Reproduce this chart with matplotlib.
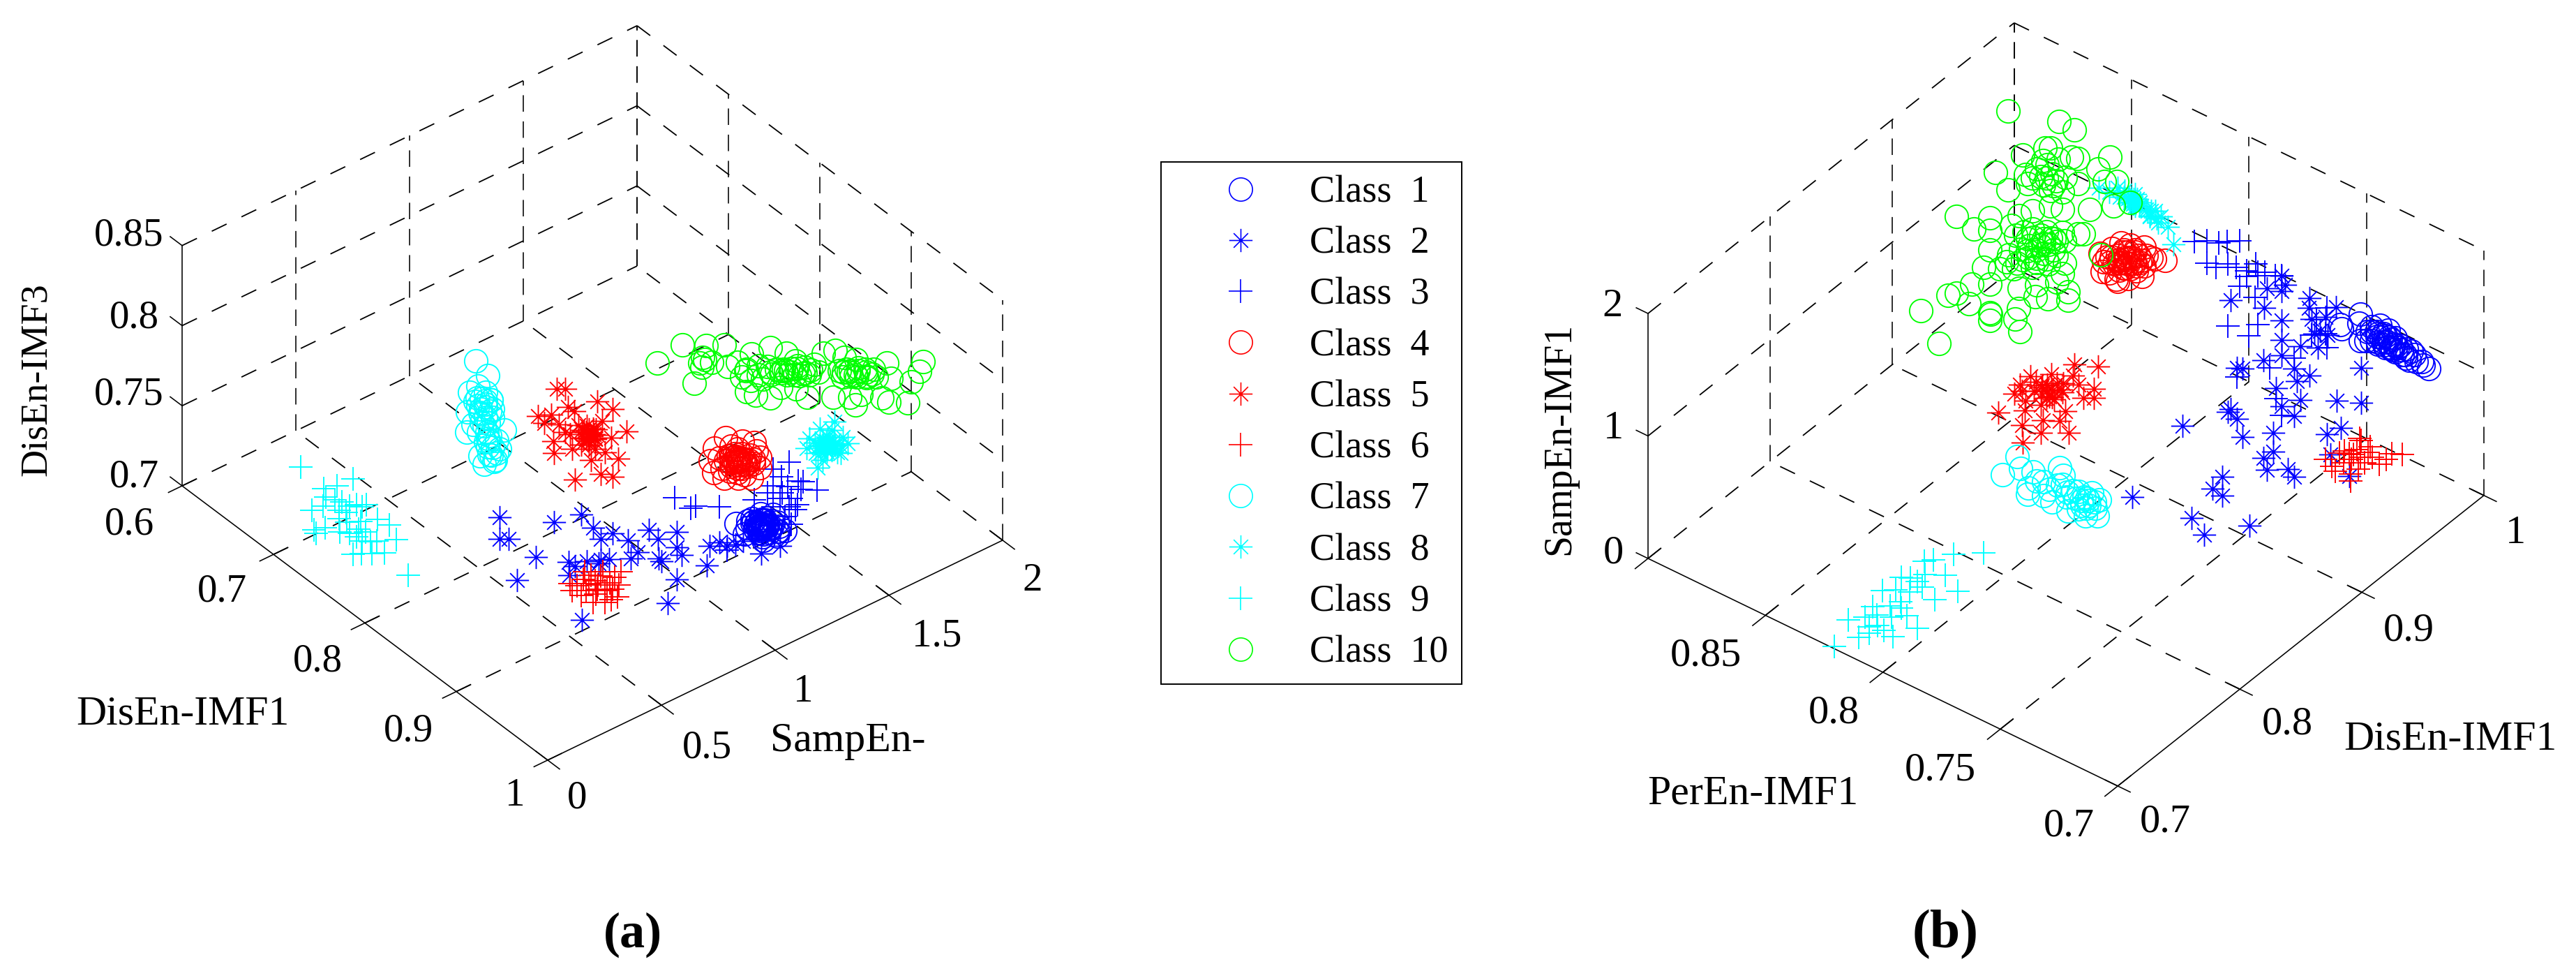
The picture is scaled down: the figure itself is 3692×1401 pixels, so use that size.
"""Entropy feature scatter plots for the ten fault classes, panels (a) and (b)."""

from __future__ import annotations

import matplotlib

matplotlib.use("Agg")

import matplotlib.pyplot as plt
import numpy as np
from matplotlib.lines import Line2D
from matplotlib.path import Path
from mpl_toolkits.mplot3d import proj3d

W, H = 3692, 1401

CLASS_NAMES = ["Class  1", "Class  2", "Class  3", "Class  4", "Class  5",
               "Class  6", "Class  7", "Class  8", "Class  9", "Class  10"]

# panel (a): (SampEn, DisEn-IMF1, DisEn-IMF3)
A1 = [(1.35, .900, .710), (1.30, .895, .711), (1.40, .905, .709), (1.33, .888, .710), (1.37, .912, .711),
      (1.28, .897, .709), (1.42, .893, .710), (1.36, .902, .711), (1.31, .910, .709), (1.39, .887, .710),
      (1.34, .892, .711), (1.38, .908, .709), (1.32, .899, .710), (1.35, .915, .711), (1.41, .900, .709),
      (1.29, .885, .710), (1.37, .895, .711), (1.33, .905, .709), (1.36, .898, .710), (1.34, .903, .711),
      (1.38, .891, .709), (1.35, .888, .710), (1.31, .905, .711), (1.40, .911, .709), (1.36, .896, .710),
      (1.33, .899, .711), (1.37, .902, .709), (1.34, .894, .710), (1.39, .899, .711), (1.32, .907, .709),
      (1.35, .897, .710), (1.36, .901, .711), (1.34, .899, .709), (1.35, .903, .710), (1.37, .899, .711),
      (1.33, .896, .709), (1.36, .905, .710), (1.34, .902, .711), (1.38, .902, .709), (1.35, .893, .710),
      (1.345, .898, .710), (1.355, .899, .711), (1.365, .897, .709), (1.345, .901, .710), (1.355, .902, .711),
      (1.335, .900, .709), (1.365, .900, .710), (1.375, .896, .711), (1.325, .902, .709), (1.350, .895, .710),
      (1.360, .894, .711), (1.340, .896, .709), (1.370, .893, .710), (1.330, .893, .711), (1.350, .906, .709)]
A2 = [(.679, .778, .710), (.597, .799, .711), (.632, .800, .709), (.635, .829, .710), (.497, .843, .711),
      (.814, .804, .709), (.908, .811, .710), (.888, .829, .711), (.880, .839, .709), (.923, .841, .710),
      (.936, .855, .711), (.929, .867, .709), (.882, .871, .710), (1.028, .855, .711), (1.032, .864, .709),
      (1.103, .867, .710), (1.041, .882, .711), (1.039, .888, .709), (.957, .883, .710), (.950, .888, .711),
      (.711, .846, .709), (.706, .854, .710), (.751, .856, .711), (.805, .858, .709), (.823, .862, .710),
      (.776, .863, .711), (.667, .858, .709), (.933, .909, .710), (.817, .928, .711), (.539, .903, .709),
      (1.062, .910, .710), (1.135, .895, .711), (1.185, .893, .709), (1.187, .901, .710), (1.208, .905, .711),
      (1.257, .921, .709), (1.326, .924, .710), (1.240, .905, .711)]
A3 = [(1.217, .836, .710), (1.237, .854, .711), (1.229, .851, .709), (1.306, .863, .710), (1.644, .855, .711),
      (1.588, .851, .709), (1.579, .863, .710), (1.516, .869, .711), (1.564, .873, .709), (1.606, .874, .710),
      (1.581, .884, .711), (1.533, .885, .709), (1.627, .890, .710), (1.491, .883, .711), (1.490, .870, .709),
      (1.492, .893, .710), (1.517, .879, .711), (1.528, .893, .709), (1.445, .900, .710), (1.492, .900, .711),
      (1.440, .908, .709), (1.421, .872, .710), (1.166, .906, .711), (1.454, .885, .709), (1.618, .877, .710)]
A4 = [(1.500, .809, .710), (1.563, .806, .711), (1.606, .813, .709), (1.628, .821, .710), (1.438, .820, .711),
      (1.418, .829, .709), (1.418, .840, .710), (1.451, .847, .711), (1.499, .850, .709), (1.551, .846, .710),
      (1.582, .838, .711), (1.517, .820, .709), (1.502, .830, .710), (1.549, .827, .711), (1.534, .835, .709),
      (1.481, .832, .710), (1.519, .841, .711), (1.576, .829, .709), (1.486, .825, .710), (1.554, .821, .711),
      (1.482, .839, .709), (1.449, .830, .710), (1.545, .841, .711), (1.493, .844, .709), (1.553, .814, .710),
      (1.597, .831, .711), (1.485, .818, .709), (1.523, .831, .710), (1.523, .827, .711), (1.508, .837, .709),
      (1.461, .836, .710), (1.530, .830, .711), (1.515, .828, .709), (1.540, .832, .710), (1.510, .833, .711),
      (1.535, .826, .709), (1.525, .836, .710), (1.505, .826, .711), (1.545, .829, .709), (1.495, .829, .710),
      (1.528, .824, .711), (1.518, .834, .709), (1.538, .836, .710), (1.498, .835, .711), (1.555, .833, .709),
      (1.520, .830, .710), (1.512, .824, .711), (1.532, .828, .709), (1.490, .837, .710), (1.560, .837, .711)]
A5 = [(1.290, .689, .710), (1.307, .694, .711), (1.149, .703, .709), (1.184, .709, .710), (1.129, .715, .711),
      (1.263, .708, .709), (1.259, .716, .710), (1.348, .719, .711), (1.373, .729, .709), (1.297, .737, .710),
      (1.318, .758, .711), (1.268, .754, .709), (1.219, .742, .710), (1.213, .732, .711), (1.174, .720, .709),
      (1.094, .734, .710), (1.047, .746, .711), (1.125, .747, .709), (1.178, .752, .710), (1.173, .760, .711),
      (1.199, .764, .709), (1.206, .777, .710), (1.121, .768, .711), (1.021, .776, .709), (1.105, .783, .710),
      (1.120, .792, .711), (1.192, .742, .709), (1.214, .750, .710), (1.160, .736, .711), (1.244, .733, .709),
      (1.156, .749, .710), (1.154, .732, .711), (1.219, .744, .709), (1.213, .738, .710), (1.239, .741, .711),
      (1.198, .744, .709), (1.235, .747, .710), (1.225, .740, .711), (1.205, .746, .709), (1.228, .745, .710),
      (1.210, .741, .711), (1.222, .748, .709), (1.190, .748, .710), (1.245, .743, .711), (1.216, .735, .709)]
A6 = [(.644, .872, .710), (.676, .871, .711), (.656, .879, .709), (.718, .869, .710), (.657, .889, .711),
      (.708, .879, .709), (.761, .871, .710), (.694, .890, .711), (.746, .882, .709), (.772, .881, .710),
      (.752, .891, .711), (.690, .898, .709), (.625, .894, .710), (.614, .884, .711), (.619, .873, .709),
      (.683, .884, .710), (.735, .875, .711), (.715, .887, .709), (.682, .875, .710), (.804, .880, .711),
      (.716, .898, .709), (.657, .899, .710), (.708, .864, .711), (.714, .874, .709), (.726, .890, .710),
      (.626, .869, .711)]
A7 = [(1.175, .629, .710), (1.148, .649, .711), (1.051, .653, .709), (.970, .671, .710), (1.085, .654, .711),
      (1.092, .660, .709), (1.026, .665, .710), (1.054, .670, .711), (1.082, .669, .709), (1.014, .674, .710),
      (1.026, .681, .711), (.946, .683, .709), (.971, .686, .710), (1.011, .688, .711), (.903, .687, .709),
      (1.002, .703, .710), (.923, .695, .711), (.951, .700, .709), (.945, .709, .710), (.905, .707, .711),
      (.853, .714, .709), (.911, .713, .710), (.917, .719, .711), (.834, .723, .709), (.865, .726, .710),
      (1.029, .676, .711), (1.051, .678, .709), (1.000, .677, .710), (1.040, .664, .711), (1.060, .664, .709),
      (1.020, .670, .710), (1.070, .672, .711), (1.005, .682, .709), (.985, .690, .710), (.960, .692, .711),
      (.935, .702, .709), (.925, .706, .710), (.895, .712, .711), (.885, .718, .709), (.900, .720, .710),
      (.870, .719, .711), (.880, .724, .709), (1.045, .672, .710), (.990, .680, .711), (.955, .696, .709)]
A8 = [(1.915, .837, .710), (1.847, .838, .711), (1.884, .842, .709), (1.885, .854, .710), (1.870, .863, .711),
      (1.752, .847, .709), (1.789, .841, .710), (1.748, .858, .711), (1.712, .869, .709), (1.748, .866, .710),
      (1.807, .867, .711), (1.828, .866, .709), (1.811, .855, .710), (1.826, .853, .711), (1.796, .857, .709),
      (1.807, .861, .710), (1.815, .849, .711), (1.853, .852, .709), (1.769, .858, .710), (1.827, .860, .711),
      (1.795, .850, .709), (1.790, .860, .710), (1.837, .849, .711), (1.853, .858, .709), (1.789, .847, .710),
      (1.820, .856, .711), (1.805, .853, .709), (1.815, .859, .710), (1.800, .855, .711), (1.830, .856, .709),
      (1.810, .851, .710), (1.785, .854, .711), (1.840, .855, .709), (1.822, .851, .710), (1.798, .859, .711)]
A9 = [(.328, .648, .710), (.418, .683, .711), (.316, .676, .709), (.357, .681, .710), (.282, .687, .711),
      (.307, .691, .709), (.314, .697, .710), (.243, .694, .711), (.209, .690, .709), (.277, .703, .710),
      (.313, .705, .711), (.349, .704, .709), (.348, .710, .710), (.363, .711, .711), (.145, .708, .709),
      (.176, .713, .710), (.239, .712, .711), (.259, .716, .709), (.294, .722, .710), (.342, .729, .711),
      (.364, .736, .709), (.132, .714, .710), (.194, .724, .711), (.226, .727, .709), (.228, .734, .710),
      (.264, .735, .711), (.255, .743, .709), (.323, .754, .710), (.150, .750, .711), (.186, .750, .709),
      (.209, .756, .710), (.238, .762, .711), (.235, .789, .709), (.228, .740, .710), (.261, .748, .711),
      (.265, .727, .709), (.288, .708, .710)]
A10 = [(1.367, .780, .760), (1.493, .776, .761), (1.565, .784, .759), (1.393, .814, .760), (1.605, .794, .761),
       (1.512, .793, .759), (1.481, .798, .760), (1.464, .804, .761), (1.521, .801, .759), (1.506, .797, .760),
       (1.535, .815, .761), (1.589, .812, .759), (1.502, .844, .760), (1.510, .852, .761), (1.550, .858, .759),
       (1.651, .812, .760), (1.717, .816, .761), (1.753, .825, .759), (1.581, .824, .760), (1.620, .827, .761),
       (1.653, .829, .759), (1.662, .837, .760), (1.547, .837, .761), (1.616, .853, .759), (1.645, .862, .760),
       (1.639, .876, .761), (1.720, .884, .759), (1.748, .902, .760), (1.754, .894, .761), (1.846, .906, .759),
       (1.847, .914, .760), (1.887, .924, .761), (1.985, .904, .759), (1.995, .914, .775), (1.951, .921, .775),
       (1.887, .845, .760), (1.840, .844, .761), (1.891, .854, .759), (1.910, .862, .760), (1.973, .880, .761),
       (1.942, .892, .759), (1.690, .845, .760), (1.737, .839, .761), (1.707, .851, .759), (1.744, .847, .760),
       (1.724, .857, .761), (1.786, .847, .759), (1.765, .857, .760), (1.821, .866, .761), (1.856, .865, .759),
       (1.836, .875, .760), (1.870, .874, .761), (1.906, .873, .759), (1.900, .882, .760), (1.896, .888, .761),
       (1.688, .838, .759), (1.591, .839, .760), (1.535, .830, .761), (1.803, .894, .759), (1.705, .842, .760),
       (1.726, .844, .761), (1.860, .874, .759), (1.632, .839, .760), (1.665, .841, .761), (1.680, .842, .760),
       (1.698, .848, .759), (1.715, .846, .761), (1.672, .846, .760), (1.732, .851, .759), (1.712, .853, .761),
       (1.752, .852, .760), (1.640, .835, .759), (1.655, .843, .761), (1.845, .870, .760), (1.862, .868, .759),
       (1.878, .872, .761), (1.850, .878, .760), (1.885, .880, .759), (1.868, .884, .761), (1.832, .868, .760),
       (1.898, .876, .759), (1.915, .880, .761), (1.812, .872, .760), (1.600, .832, .759), (1.570, .826, .761)]

# panel (b): (DisEn-IMF1, PerEn-IMF1, SampEn-IMF1)
B1 = [(.9602, .7320, 1.50), (.9440, .7315, 1.51), (.9480, .7341, 1.49), (.9539, .7292, 1.50), (.9423, .7227, 1.51),
      (.9456, .7219, 1.49), (.9589, .7229, 1.50), (.9519, .7227, 1.51), (.9556, .7196, 1.49), (.9544, .7166, 1.50),
      (.9547, .7143, 1.51), (.9531, .7114, 1.49), (.9523, .7081, 1.50), (.9500, .7038, 1.51), (.9496, .7002, 1.49),
      (.9469, .6983, 1.50), (.9458, .6952, 1.51), (.9474, .7204, 1.49), (.9496, .7165, 1.50), (.9464, .7110, 1.51),
      (.9478, .7077, 1.49), (.9522, .7060, 1.50), (.9458, .7136, 1.51), (.9549, .7223, 1.49), (.9518, .7187, 1.50),
      (.9494, .7105, 1.51), (.9491, .7128, 1.49), (.9460, .7053, 1.50), (.9577, .7188, 1.51), (.9563, .7250, 1.49),
      (.9456, .7036, 1.50), (.9457, .7096, 1.51), (.9520, .7247, 1.49), (.9506, .7156, 1.50), (.9455, .7169, 1.51),
      (.9478, .7017, 1.49), (.9510, .7200, 1.50), (.9530, .7175, 1.51), (.9485, .7185, 1.49), (.9512, .7130, 1.50),
      (.9470, .7150, 1.51), (.9538, .7210, 1.49), (.9500, .7090, 1.50), (.9525, .7150, 1.51), (.9490, .7070, 1.49),
      (.9472, .7125, 1.50), (.9503, .7115, 1.51), (.9515, .7165, 1.49)]
B2 = [(.9964, .7610, 1.00), (.9928, .7706, 1.01), (.9880, .7682, .99), (.9867, .7605, 1.00), (.9804, .7633, 1.01),
      (.9770, .7579, .99), (.9727, .7580, 1.00), (.9750, .7536, 1.01), (.9610, .7579, .99), (.9646, .7522, 1.00),
      (.9700, .7707, 1.01), (.9590, .7649, .99), (.9484, .7594, 1.00), (.9388, .7620, 1.01), (.9444, .7520, .99),
      (.9440, .7453, 1.00), (.9360, .7465, 1.01), (.9266, .7504, .99), (.9652, .7343, 1.00), (.9248, .7391, 1.01),
      (.9168, .7429, .99), (.9135, .7358, 1.00), (.9357, .7294, 1.01), (.9433, .7229, .99), (.9203, .7195, 1.00),
      (.9112, .7207, 1.01), (.9011, .7139, .99), (.8962, .7358, 1.00), (.8832, .7291, 1.01), (.8781, .7304, .99),
      (.8704, .7250, 1.00), (.8769, .7195, 1.01), (.8751, .7159, .99), (.8922, .7013, 1.00), (.8513, .7342, 1.01),
      (.8423, .7336, .99), (.8401, .7284, 1.00), (.8716, .7616, 1.01), (.8850, .7429, .99), (.8938, .7501, 1.00),
      (.8947, .7544, 1.01), (.8989, .7554, .99), (.9266, .7671, 1.00), (.9271, .7648, 1.01), (.9686, .7915, .99),
      (.9735, .7799, 1.00), (.9860, .7851, 1.01), (.9906, .7813, .99), (.9947, .7819, 1.00), (.9988, .7856, 1.01),
      (.8120, .7520, .99), (.8160, .7290, 1.00), (.8086, .7196, 1.01), (.8300, .7116, .99)]
B3 = [(.9784, .8121, 1.20), (.9823, .8087, 1.21), (.9859, .8057, 1.19), (.9887, .8033, 1.20), (.9925, .8001, 1.21),
      (.9696, .8021, 1.19), (.9688, .7978, 1.20), (.9739, .7955, 1.21), (.9757, .7929, 1.19), (.9760, .7886, 1.20),
      (.9826, .7881, 1.21), (.9796, .7855, 1.19), (.9722, .7867, 1.20), (.9758, .7836, 1.21), (.9818, .7837, 1.19),
      (.9821, .7794, 1.20), (.9831, .7775, 1.21), (.9358, .7757, 1.19), (.9349, .7663, 1.20), (.9634, .7850, 1.21),
      (.9622, .7779, 1.19), (.9452, .7677, 1.20), (.9763, .7546, 1.21), (.9610, .7472, 1.19), (.9517, .7418, 1.20),
      (.9545, .7497, 1.21), (.9356, .7473, 1.19), (.9213, .7502, 1.20), (.9043, .7555, 1.21), (.8951, .7317, 1.19),
      (.9031, .7382, 1.20), (.9656, .7535, 1.21)]
B4 = [(.9025, .8128, 1.70), (.8976, .8087, 1.71), (.8921, .8064, 1.69), (.9092, .8113, 1.70), (.9150, .8103, 1.71),
      (.9178, .8079, 1.69), (.9200, .8031, 1.70), (.8919, .8033, 1.71), (.8919, .8004, 1.69), (.8901, .7989, 1.70),
      (.8940, .7965, 1.71), (.9014, .7944, 1.69), (.9155, .7977, 1.70), (.9150, .7960, 1.71), (.9190, .7936, 1.69),
      (.9038, .8055, 1.70), (.9060, .8037, 1.71), (.9104, .8031, 1.69), (.9088, .7992, 1.70), (.8994, .8052, 1.71),
      (.9029, .8002, 1.69), (.9105, .8070, 1.70), (.9149, .8043, 1.71), (.9088, .7972, 1.69), (.9039, .8086, 1.70),
      (.9000, .8006, 1.71), (.9033, .7978, 1.69), (.9155, .7998, 1.70), (.9017, .8094, 1.71), (.9050, .8060, 1.69),
      (.9075, .8045, 1.70), (.9020, .8040, 1.71), (.9090, .8015, 1.69), (.9045, .8020, 1.70), (.9115, .8055, 1.71),
      (.9005, .8075, 1.69), (.9070, .8005, 1.70), (.9125, .8015, 1.71), (.8985, .8025, 1.69), (.9065, .8075, 1.70),
      (.9135, .8035, 1.71), (.9010, .8020, 1.69), (.9058, .7990, 1.70), (.9100, .7990, 1.71), (.9030, .8050, 1.69),
      (.9120, .8075, 1.70), (.9080, .8030, 1.71), (.9050, .8035, 1.69)]
B5 = [(.8704, .8071, 1.10), (.8760, .7997, 1.11), (.8500, .8150, 1.09), (.8570, .8100, 1.10), (.8620, .8032, 1.11),
      (.8415, .8152, 1.09), (.8490, .8076, 1.10), (.8580, .7987, 1.11), (.8616, .7940, 1.09), (.8330, .8130, 1.10),
      (.8400, .8085, 1.11), (.8426, .8033, 1.09), (.8490, .8010, 1.10), (.8510, .7930, 1.11), (.8556, .7910, 1.09),
      (.8160, .8110, 1.10), (.8250, .8044, 1.11), (.8160, .8010, 1.09), (.8246, .7967, 1.10), (.8290, .7917, 1.11),
      (.8385, .7944, 1.09), (.8160, .7930, 1.10), (.8240, .7854, 1.11), (.8050, .7950, 1.09), (.8320, .8080, 1.10),
      (.8410, .8003, 1.11), (.8350, .8030, 1.09), (.8530, .8054, 1.10), (.8465, .8110, 1.11), (.8380, .8124, 1.09),
      (.8450, .8056, 1.10), (.8540, .8034, 1.11), (.8434, .8026, 1.09), (.8470, .8040, 1.10), (.8445, .8075, 1.11),
      (.8510, .8025, 1.09), (.8415, .8060, 1.10), (.8395, .8030, 1.11), (.8480, .8090, 1.09)]
B6 = [(.9590, .7180, .50), (.9607, .7143, .51), (.9515, .7290, .49), (.9456, .7290, .50), (.9570, .7300, .51),
      (.9530, .7250, .49), (.9430, .7320, .50), (.9340, .7330, .51), (.9330, .7300, .49), (.9380, .7274, .50),
      (.9420, .7262, .51), (.9395, .7221, .49), (.9447, .7220, .50), (.9500, .7215, .51), (.9490, .7180, .49),
      (.9535, .7174, .50), (.9280, .7193, .51), (.9340, .7224, .49), (.9457, .7313, .50), (.9456, .7272, .51),
      (.9477, .7254, .49), (.9566, .7260, .50), (.9580, .7310, .51), (.9310, .7275, .49)]
B7 = [(.8330, .8120, .60), (.8160, .8095, .61), (.8270, .8075, .59), (.8280, .8024, .60), (.8380, .7965, .61),
      (.8170, .7990, .59), (.8250, .7965, .60), (.8340, .7930, .61), (.8293, .7862, .59), (.8160, .7918, .60),
      (.8264, .7914, .61), (.8286, .7813, .59), (.8280, .7764, .60), (.8190, .7705, .61), (.8190, .7786, .59),
      (.8136, .7803, .60), (.8230, .7763, .61), (.8315, .7760, .59), (.8147, .7876, .60), (.8110, .7960, .61),
      (.8240, .7990, .59), (.8256, .7866, .60), (.8240, .7800, .61), (.8300, .7910, .59), (.8240, .7824, .60),
      (.8320, .7797, .61), (.8170, .7744, .59), (.8219, .7925, .60), (.8260, .7780, .61), (.8225, .7790, .59),
      (.8275, .7795, .60), (.8205, .7760, .61), (.8250, .7745, .59), (.8295, .7840, .60), (.8215, .7850, .61)]
B8 = [(.9365, .8309, 1.80), (.9360, .8263, 1.81), (.9430, .8264, 1.79), (.9422, .8231, 1.80), (.9384, .8191, 1.81),
      (.9388, .8178, 1.79), (.9366, .8176, 1.80), (.9425, .8187, 1.81), (.9379, .8144, 1.79), (.9371, .8110, 1.80),
      (.9371, .8090, 1.81), (.9400, .8086, 1.79), (.9370, .8049, 1.80), (.9318, .8032, 1.81), (.9332, .8000, 1.79),
      (.9230, .7923, 1.80), (.9358, .8162, 1.81), (.9395, .8201, 1.79), (.9391, .8165, 1.80), (.9377, .8208, 1.81),
      (.9378, .8227, 1.79), (.9337, .8077, 1.80), (.9337, .8048, 1.81), (.9377, .8177, 1.79), (.9399, .8179, 1.80),
      (.9402, .8166, 1.81), (.9385, .8170, 1.79), (.9372, .8165, 1.80), (.9392, .8185, 1.81), (.9365, .8155, 1.79),
      (.9380, .8160, 1.80), (.9360, .8100, 1.81), (.9350, .8085, 1.79), (.9395, .8150, 1.80)]
B9 = [(.800, .809, .10), (.789, .816, .11), (.777, .8225, .09), (.780, .820, .10), (.773, .8115, .11),
      (.768, .8035, .09), (.761, .820, .10), (.760, .8166, .11), (.7595, .823, .09), (.749, .820, .10),
      (.7436, .8227, .11), (.753, .816, .09), (.759, .814, .10), (.754, .806, .11), (.7435, .815, .09),
      (.737, .816, .10), (.730, .820, .11), (.728, .817, .09), (.722, .819, .10), (.714, .822, .11),
      (.7175, .815, .09), (.730, .812, .10), (.735, .808, .11), (.732, .802, .09), (.707, .814, .10),
      (.712, .812, .11), (.720, .810, .09), (.718, .805, .10), (.693, .817, .11), (.7215, .8134, .09),
      (.739, .8125, .10), (.767, .817, .11)]
B10 = [(.9729, .8885, 1.60), (.9814, .8712, 1.61), (.9823, .8653, 1.59), (.9752, .8462, 1.60), (.9602, .8662, 1.61),
       (.9500, .8704, 1.59), (.9628, .8650, 1.60), (.9626, .8560, 1.61), (.9651, .8548, 1.59), (.9641, .8455, 1.60),
       (.9289, .8710, 1.61), (.9235, .8627, 1.59), (.9376, .8628, 1.60), (.9442, .8614, 1.61), (.9426, .8565, 1.59),
       (.9324, .8591, 1.60), (.9359, .8540, 1.61), (.9388, .8476, 1.59), (.9479, .8459, 1.60), (.9570, .8392, 1.61),
       (.9625, .8367, 1.59), (.8895, .8671, 1.60), (.8859, .8578, 1.61), (.8998, .8583, 1.59), (.8908, .8536, 1.60),
       (.8774, .8466, 1.61), (.9104, .8512, 1.59), (.9005, .8495, 1.60), (.9159, .8486, 1.61), (.9262, .8460, 1.59),
       (.9268, .8414, 1.60), (.9344, .8339, 1.61), (.9457, .8294, 1.59), (.9523, .8259, 1.60), (.9168, .8274, 1.61),
       (.9166, .8296, 1.59), (.8959, .8451, 1.60), (.9040, .8424, 1.61), (.9083, .8387, 1.59), (.9119, .8336, 1.60),
       (.9066, .8299, 1.61), (.8819, .8408, 1.59), (.8885, .8393, 1.60), (.8920, .8342, 1.61), (.8986, .8307, 1.59),
       (.8932, .8229, 1.60), (.8642, .8425, 1.61), (.8516, .8409, 1.59), (.8562, .8356, 1.60), (.8685, .8378, 1.61),
       (.8743, .8349, 1.59), (.8801, .8300, 1.60), (.8867, .8265, 1.61), (.8865, .8204, 1.59), (.8402, .8414, 1.60),
       (.8353, .8426, 1.61), (.8383, .8352, 1.59), (.8380, .8260, 1.60), (.8366, .8250, 1.61), (.8341, .8241, 1.59),
       (.8497, .8201, 1.60), (.8412, .8171, 1.61), (.8360, .8122, 1.59), (.8179, .8450, 1.60), (.8015, .8290, 1.61),
       (.8631, .8200, 1.59), (.8647, .8155, 1.60), (.8749, .8119, 1.61), (.8712, .8100, 1.59), (.8627, .8264, 1.60),
       (.8696, .8226, 1.61), (.8795, .8192, 1.59), (.8759, .8387, 1.60), (.8966, .8405, 1.61), (.9001, .8354, 1.59),
       (.9521, .8629, 1.60), (.9568, .8589, 1.61), (.9383, .8602, 1.59), (.9352, .8507, 1.60), (.8817, .8348, 1.61),
       (.9104, .8165, 1.59), (.9035, .8386, 1.60), (.9000, .8438, 1.61), (.9064, .8343, 1.59), (.8875, .8319, 1.60),
       (.8990, .8395, 1.61), (.8940, .8385, 1.59), (.9020, .8365, 1.60), (.8960, .8350, 1.61), (.8905, .8375, 1.59),
       (.9050, .8350, 1.60), (.8995, .8330, 1.61), (.8935, .8320, 1.59), (.8855, .8345, 1.60), (.9035, .8320, 1.61),
       (.8790, .8360, 1.59), (.8900, .8290, 1.60), (.8840, .8300, 1.61), (.8960, .8280, 1.59), (.9465, .8560, 1.60),
       (.9500, .8600, 1.61), (.9440, .8530, 1.59), (.9410, .8580, 1.60), (.9475, .8510, 1.61), (.9400, .8520, 1.59)]

PANEL_A = [A1, A2, A3, A4, A5, A6, A7, A8, A9, A10]
PANEL_B = [B1, B2, B3, B4, B5, B6, B7, B8, B9, B10]

COLORS = ["#0000ff", "#0000ff", "#0000ff", "#ff0000", "#ff0000", "#ff0000",
          "#00ffff", "#00ffff", "#00ffff", "#00ff00"]

STAR = Path(
    [(-1, 0), (1, 0), (0, -1), (0, 1), (-0.62, -0.62), (0.62, 0.62), (-0.62, 0.62), (0.62, -0.62)],
    [Path.MOVETO, Path.LINETO] * 4,
)
MARKERS = ["o", STAR, "+", "o", STAR, "+", "o", STAR, "+", "o"]

plt.rcParams["font.family"] = ["Liberation Serif", "DejaVu Serif"]
plt.rcParams["lines.scale_dashes"] = False


def px_text(fig, x, y, s, size, **kw):
    """Place text by pixel position measured from the top left of the picture."""
    kw.setdefault("ha", "center")
    kw.setdefault("va", "center")
    fig.text(x / W, 1 - y / H, s, fontsize=size, **kw)


def project(ax, point):
    xs, ys, _ = proj3d.proj_transform(*point, ax.get_proj())
    ax.apply_aspect()
    return ax.transData.transform((xs, ys))


def fit_axes(ax, corner1, target1, corner2, target2):
    """Move and scale the square 3D axes so two box corners land on given pixels."""
    t1 = np.array([target1[0], H - target1[1]], dtype=float)
    t2 = np.array([target2[0], H - target2[1]], dtype=float)
    size, left, bottom = 1200.0, 0.0, 0.0
    for _ in range(4):
        ax.set_position([left / W, bottom / H, size / W, size / H])
        p1, p2 = project(ax, corner1), project(ax, corner2)
        size *= np.linalg.norm(t2 - t1) / np.linalg.norm(p2 - p1)
        ax.set_position([left / W, bottom / H, size / W, size / H])
        p1 = project(ax, corner1)
        left += t1[0] - p1[0]
        bottom += t1[1] - p1[1]
    ax.set_position([left / W, bottom / H, size / W, size / H])


def draw_box(ax, xt, yt, zt, x_tick, y_tick, z_tick):
    """Dashed floor and back walls, solid axes with their ticks."""
    x0, x1 = xt[0], xt[-1]
    y0, y1 = yt[0], yt[-1]
    z0, z1 = zt[0], zt[-1]
    slanted = {"color": "k", "lw": 1.3, "dashes": (17, 17), "zorder": 1, "clip_on": False}
    upright = {"color": "k", "lw": 1.15, "dashes": (17, 10), "zorder": 1, "clip_on": False}
    solid = {"color": "k", "lw": 1.15, "zorder": 1, "clip_on": False}

    for x in xt[1:]:
        ax.plot([x, x], [y0, y1], [z0, z0], **slanted)
        ax.plot([x, x], [y1, y1], [z0, z1], **upright)
    for y in yt[1:]:
        ax.plot([x0, x1], [y, y], [z0, z0], **slanted)
    for y in yt:
        ax.plot([x1, x1], [y, y], [z0, z1], **upright)
    for z in zt[1:]:
        ax.plot([x0, x1], [y1, y1], [z, z], **slanted)
        ax.plot([x1, x1], [y1, y0], [z, z], **slanted)

    ax.plot([x0, x1], [y0, y0], [z0, z0], **solid)
    ax.plot([x0, x0], [y0, y1], [z0, z0], **solid)
    ax.plot([x0, x0], [y1, y1], [z0, z1], **solid)
    for x in xt:
        ax.plot([x, x], [y0 - y_tick, y0 + y_tick], [z0, z0], **solid)
    for y in yt:
        ax.plot([x0 - x_tick, x0 + x_tick], [y, y], [z0, z0], **solid)
    for z in zt:
        ax.plot([x0, x0], [y1, y1 + z_tick], [z, z], **solid)


def draw_classes(ax, panel):
    for i, points in enumerate(panel):
        xs, ys, zs = np.array(points).T
        ax.plot(xs, ys, zs, linestyle="none", marker=MARKERS[i], ms=24, mew=1.35,
                mfc="none", mec=COLORS[i], zorder=2 + i, clip_on=False)


def make_axes(fig, elev, azim, aspect, xlim, ylim, zlim):
    ax = fig.add_axes([0, 0, 0.3, 0.3], projection="3d")
    ax.set_proj_type("ortho")
    ax.view_init(elev=elev, azim=azim)
    ax.set_box_aspect(aspect)
    ax.set_xlim(*xlim)
    ax.set_ylim(*ylim)
    ax.set_zlim(*zlim)
    ax.set_axis_off()
    ax.patch.set_visible(False)
    ax.computed_zorder = False
    return ax


def main() -> None:
    fig = plt.figure(figsize=(W / 100, H / 100), dpi=100, facecolor="white")

    # (a)
    ax = make_axes(fig, 37.0, -128.75, (836, 837, 431), (0, 2), (1, 0.6), (0.7, 0.85))
    draw_box(ax, [0, 0.5, 1, 1.5, 2], [1, 0.9, 0.8, 0.7, 0.6], [0.7, 0.75, 0.8, 0.85],
             0.06, 0.013, -0.013)
    draw_classes(ax, PANEL_A)
    fit_axes(ax, (0, 0.6, 0.7), (261, 696), (2, 1, 0.7), (1437, 774))

    for s, x, y in [("0.85", 185, 338), ("0.8", 192, 455), ("0.75", 185, 566), ("0.7", 192, 684)]:
        px_text(fig, x, y, s, 41)
    for s, x, y in [("0.6", 186, 751), ("0.7", 318, 847), ("0.8", 455, 947), ("0.9", 585, 1047), ("1", 738, 1140)]:
        px_text(fig, x, y, s, 41)
    for s, x, y in [("0", 827, 1144), ("0.5", 1013, 1071), ("1", 1151, 991), ("1.5", 1343, 911), ("2", 1480, 832)]:
        px_text(fig, x, y, s, 41)
    px_text(fig, 53, 544, "DisEn-IMF3", 39, rotation=90)
    px_text(fig, 262, 1024, "DisEn-IMF1", 43)
    px_text(fig, 1215, 1062, "SampEn-", 43)
    px_text(fig, 907, 1339, "(a)", 52, fontweight="bold")

    # (b)
    ax = make_axes(fig, 38.3, -142.0, (852, 854, 447), (0.7, 1), (0.7, 0.9), (0, 2))
    draw_box(ax, [0.7, 0.8, 0.9, 1], [0.7, 0.75, 0.8, 0.85, 0.9], [0, 1, 2],
             0.0105, 0.0053, 0.005)
    draw_classes(ax, PANEL_B)
    fit_axes(ax, (0.7, 0.9, 0), (2362, 800), (1, 0.7, 0), (3560, 710))

    for s, x, y in [("2", 2311, 439), ("1", 2312, 614), ("0", 2312, 792)]:
        px_text(fig, x, y, s, 42)
    for s, x, y in [("0.85", 2445, 939), ("0.8", 2628, 1022), ("0.75", 2781, 1104), ("0.7", 2965, 1184)]:
        px_text(fig, x, y, s, 42)
    for s, x, y in [("0.7", 3103, 1177), ("0.8", 3278, 1038), ("0.9", 3452, 904), ("1", 3605, 764)]:
        px_text(fig, x, y, s, 42)
    px_text(fig, 2235, 628, "SampEn-IMF1", 40, rotation=90)
    px_text(fig, 2512, 1138, "PerEn-IMF1", 43)
    px_text(fig, 3512, 1059, "DisEn-IMF1", 43)
    px_text(fig, 2788, 1339, "(b)", 56, fontweight="bold")

    handles = [
        Line2D([], [], linestyle="none", marker=MARKERS[i], ms=24, mew=1.2, mfc="none", mec=COLORS[i])
        for i in range(10)
    ]
    legend = fig.legend(handles, CLASS_NAMES, loc="upper left", bbox_to_anchor=(1664 / W, 1 - 232 / H),
                        bbox_transform=fig.transFigure, borderaxespad=0, fontsize=39, numpoints=1,
                        handlelength=3.5, handletextpad=0.09, labelspacing=0.42, borderpad=0.35,
                        fancybox=False, framealpha=1, edgecolor="k", facecolor="white")
    legend.get_frame().set_linewidth(1.4)

    fig.savefig("out.png", dpi=100)
    plt.close(fig)


if __name__ == "__main__":
    main()
